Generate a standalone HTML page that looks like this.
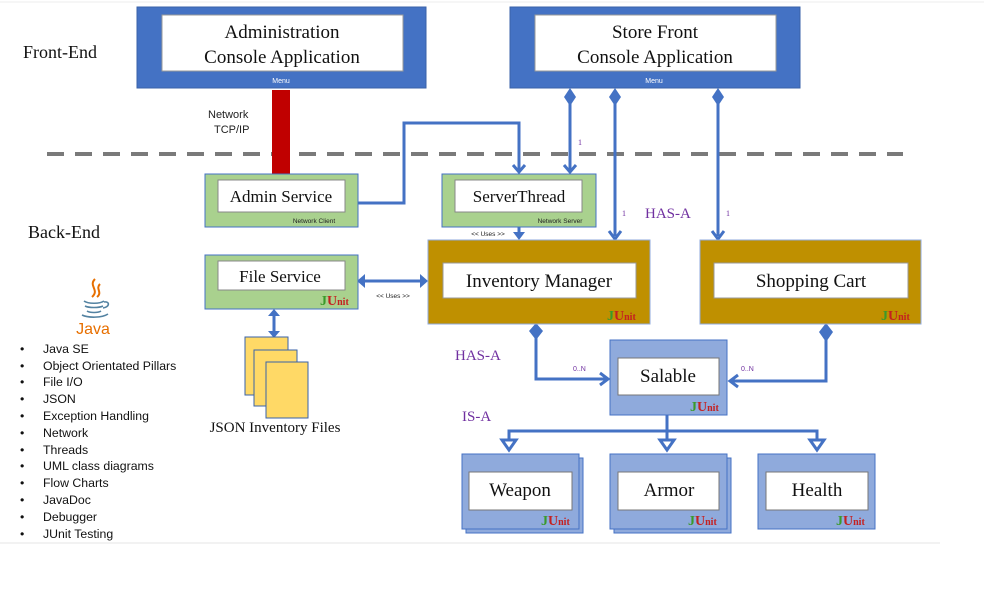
<!DOCTYPE html>
<html><head><meta charset="utf-8"><style>
html,body{margin:0;padding:0;background:#fff;width:984px;height:598px;overflow:hidden}
svg{display:block}
.s{font-family:"Liberation Serif",serif;fill:#111}
.a{font-family:"Liberation Sans",sans-serif}
</style></head><body>
<svg width="984" height="598" viewBox="0 0 984 598" xmlns="http://www.w3.org/2000/svg">
<defs>
<g id="ju"><text x="0" y="0" font-family="Liberation Serif,serif" font-weight="bold" font-size="14"><tspan fill="#3a9a2a">J</tspan><tspan fill="#c42020">U</tspan><tspan fill="#c42020" font-size="10">nit</tspan></text></g>
</defs>
<rect x="0" y="0" width="984" height="598" fill="#fff"/>
<line x1="0" y1="2" x2="984" y2="2" stroke="#eee" stroke-width="1"/>
<line x1="0" y1="543" x2="940" y2="543" stroke="#eee" stroke-width="1.5"/>

<text x="23" y="58" class="s" font-size="18">Front-End</text>
<text x="28" y="238" class="s" font-size="18">Back-End</text>

<line x1="47" y1="154" x2="903" y2="154" stroke="#7a7a7a" stroke-width="4" stroke-dasharray="17,11"/>

<rect x="272" y="90" width="18" height="85" fill="#c00000"/>
<text x="208" y="118" class="a" font-size="11" fill="#222">Network</text>
<text x="214" y="133" class="a" font-size="11" fill="#222">TCP/IP</text>

<rect x="137" y="7" width="289" height="81" fill="#4472c4" stroke="#3a62a8"/>
<rect x="162" y="15" width="241" height="56" fill="#fff" stroke="#999"/>
<text x="282" y="38" text-anchor="middle" class="s" font-size="19">Administration</text>
<text x="282" y="63" text-anchor="middle" class="s" font-size="19">Console Application</text>
<text x="281" y="83" text-anchor="middle" class="a" font-size="7" fill="#fff">Menu</text>

<rect x="510" y="7" width="290" height="81" fill="#4472c4" stroke="#3a62a8"/>
<rect x="535" y="15" width="241" height="56" fill="#fff" stroke="#999"/>
<text x="655" y="38" text-anchor="middle" class="s" font-size="19">Store Front</text>
<text x="655" y="63" text-anchor="middle" class="s" font-size="19">Console Application</text>
<text x="654" y="83" text-anchor="middle" class="a" font-size="7" fill="#fff">Menu</text>

<g stroke="#4472c4" stroke-width="3" fill="none">
<polyline points="358,203 404,203 404,123 519,123 519,170"/>
<line x1="570" y1="100" x2="570" y2="170"/>
<line x1="615" y1="100" x2="615" y2="236"/>
<line x1="718" y1="100" x2="718" y2="236"/>
<line x1="519" y1="227" x2="519" y2="237"/>
<line x1="364" y1="281" x2="423" y2="281"/>
<line x1="274" y1="313" x2="274" y2="333"/>
<polyline points="536,336 536,379 606,379"/>
<polyline points="826,340 826,381 732,381"/>
<polyline points="509,440 509,431 817,431 817,440"/>
<line x1="667" y1="415" x2="667" y2="440"/>
</g>
<g fill="none" stroke="#4472c4" stroke-width="3">
<polyline points="513,165 519,172 525,165"/>
<polyline points="564,165 570,172 576,165"/>
<polyline points="609,231 615,239 621,231"/>
<polyline points="712,231 718,239 724,231"/>
<polyline points="600,373 608,379 600,385"/>
<polyline points="738,375 730,381 738,387"/>
</g>
<g fill="#4472c4">
<polygon points="513,232 525,232 519,240"/>
<polygon points="365,274 357,281 365,288"/>
<polygon points="420,274 428,281 420,288"/>
<polygon points="268,316 280,316 274,309"/>
<polygon points="268,331 280,331 274,338"/>
<polygon points="570,88 576,97 570,106 564,97"/>
<polygon points="615,88 621,97 615,106 609,97"/>
<polygon points="718,88 724,97 718,106 712,97"/>
<polygon points="536,323 543,331 536,340 529,331"/>
<polygon points="826,323 833,332 826,342 819,332"/>
</g>
<g fill="#fff" stroke="#4472c4" stroke-width="3">
<polygon points="502,440 516,440 509,450"/>
<polygon points="660,440 674,440 667,450"/>
<polygon points="810,440 824,440 817,450"/>
</g>

<rect x="205" y="174" width="153" height="53" fill="#a9d18e" stroke="#4472c4"/>
<rect x="218" y="180" width="127" height="32" fill="#fff" stroke="#888"/>
<text x="281" y="202" text-anchor="middle" class="s" font-size="17">Admin Service</text>
<text x="314" y="223" text-anchor="middle" class="a" font-size="6.5" fill="#222">Network Client</text>

<rect x="442" y="174" width="154" height="53" fill="#a9d18e" stroke="#4472c4"/>
<rect x="455" y="180" width="127" height="32" fill="#fff" stroke="#888"/>
<text x="519" y="202" text-anchor="middle" class="s" font-size="17">ServerThread</text>
<text x="560" y="223" text-anchor="middle" class="a" font-size="6.5" fill="#222">Network Server</text>
<text x="488" y="236" text-anchor="middle" class="a" font-size="6.5" fill="#222">&lt;&lt; Uses &gt;&gt;</text>

<rect x="205" y="255" width="153" height="54" fill="#a9d18e" stroke="#4472c4"/>
<rect x="218" y="261" width="127" height="29" fill="#fff" stroke="#888"/>
<text x="280" y="282" text-anchor="middle" class="s" font-size="17">File Service</text>
<use href="#ju" x="320" y="305"/>
<text x="393" y="298" text-anchor="middle" class="a" font-size="6.5" fill="#222">&lt;&lt; Uses &gt;&gt;</text>

<rect x="245" y="337" width="43" height="58" fill="#ffd966" stroke="#3a62a8"/>
<rect x="254" y="350" width="43" height="56" fill="#ffd966" stroke="#3a62a8"/>
<rect x="266" y="362" width="42" height="56" fill="#ffd966" stroke="#3a62a8"/>
<text x="275" y="432" text-anchor="middle" class="s" font-size="15">JSON Inventory Files</text>

<rect x="428" y="240" width="222" height="84" fill="#bf9000" stroke="#8faadc"/>
<rect x="443" y="263" width="193" height="35" fill="#fff" stroke="#999"/>
<text x="539" y="287" text-anchor="middle" class="s" font-size="19">Inventory Manager</text>
<use href="#ju" x="607" y="320"/>

<rect x="700" y="240" width="221" height="84" fill="#bf9000" stroke="#8faadc"/>
<rect x="714" y="263" width="194" height="35" fill="#fff" stroke="#999"/>
<text x="811" y="287" text-anchor="middle" class="s" font-size="19">Shopping Cart</text>
<use href="#ju" x="881" y="320"/>

<rect x="610" y="340" width="117" height="75" fill="#8faadc" stroke="#4472c4"/>
<rect x="618" y="358" width="101" height="37" fill="#fff" stroke="#777"/>
<text x="668" y="382" text-anchor="middle" class="s" font-size="19">Salable</text>
<use href="#ju" x="690" y="411"/>

<rect x="466" y="458" width="117" height="75" fill="#8faadc" stroke="#4472c4"/>
<rect x="462" y="454" width="117" height="75" fill="#8faadc" stroke="#4472c4"/>
<rect x="469" y="472" width="103" height="38" fill="#fff" stroke="#777"/>
<text x="520" y="496" text-anchor="middle" class="s" font-size="19">Weapon</text>
<use href="#ju" x="541" y="525"/>

<rect x="614" y="458" width="117" height="75" fill="#8faadc" stroke="#4472c4"/>
<rect x="610" y="454" width="117" height="75" fill="#8faadc" stroke="#4472c4"/>
<rect x="618" y="472" width="101" height="38" fill="#fff" stroke="#777"/>
<text x="669" y="496" text-anchor="middle" class="s" font-size="19">Armor</text>
<use href="#ju" x="688" y="525"/>

<rect x="758" y="454" width="117" height="75" fill="#8faadc" stroke="#4472c4"/>
<rect x="766" y="472" width="102" height="38" fill="#fff" stroke="#777"/>
<text x="817" y="496" text-anchor="middle" class="s" font-size="19">Health</text>
<use href="#ju" x="836" y="525"/>

<g fill="#7030a0" font-family="Liberation Serif,serif">
<text x="645" y="218" font-size="15">HAS-A</text>
<text x="455" y="360" font-size="15">HAS-A</text>
<text x="462" y="421" font-size="15">IS-A</text>
<text x="578" y="145" font-size="8">1</text>
<text x="622" y="216" font-size="8">1</text>
<text x="726" y="216" font-size="8">1</text>
<text x="573" y="371" font-size="7" font-family="Liberation Sans,sans-serif">0..N</text>
<text x="741" y="371" font-size="7" font-family="Liberation Sans,sans-serif">0..N</text>
</g>

<g fill="none" stroke="#e76f00" stroke-width="2">
<path d="M95,279 C88,286 100,290 92,297"/>
<path d="M100,284 C95,289 103,292 97,297"/>
</g>
<g fill="none" stroke="#5382a1" stroke-width="1.6">
<path d="M84,301 C88,304 100,304 104,301"/>
<path d="M85,306 C89,308 99,308 103,306"/>
<path d="M87,311 C90,313 98,313 101,311"/>
<path d="M104,302 C110,301 110,307 103,308"/>
<path d="M82,315 C88,318 102,318 108,314"/>
</g>
<text x="93" y="334" text-anchor="middle" font-family="Liberation Sans,sans-serif" font-size="16" fill="#e76f00">Java</text>

<g font-family="Liberation Sans,sans-serif" font-size="12.3" fill="#111">
<text x="20" y="353">•</text><text x="43" y="353">Java SE</text>
<text x="20" y="370">•</text><text x="43" y="370">Object Orientated Pillars</text>
<text x="20" y="386">•</text><text x="43" y="386">File I/O</text>
<text x="20" y="403">•</text><text x="43" y="403">JSON</text>
<text x="20" y="420">•</text><text x="43" y="420">Exception Handling</text>
<text x="20" y="437">•</text><text x="43" y="437">Network</text>
<text x="20" y="454">•</text><text x="43" y="454">Threads</text>
<text x="20" y="470">•</text><text x="43" y="470">UML class diagrams</text>
<text x="20" y="487">•</text><text x="43" y="487">Flow Charts</text>
<text x="20" y="504">•</text><text x="43" y="504">JavaDoc</text>
<text x="20" y="521">•</text><text x="43" y="521">Debugger</text>
<text x="20" y="538">•</text><text x="43" y="538">JUnit Testing</text>
</g>
</svg>
</body></html>
